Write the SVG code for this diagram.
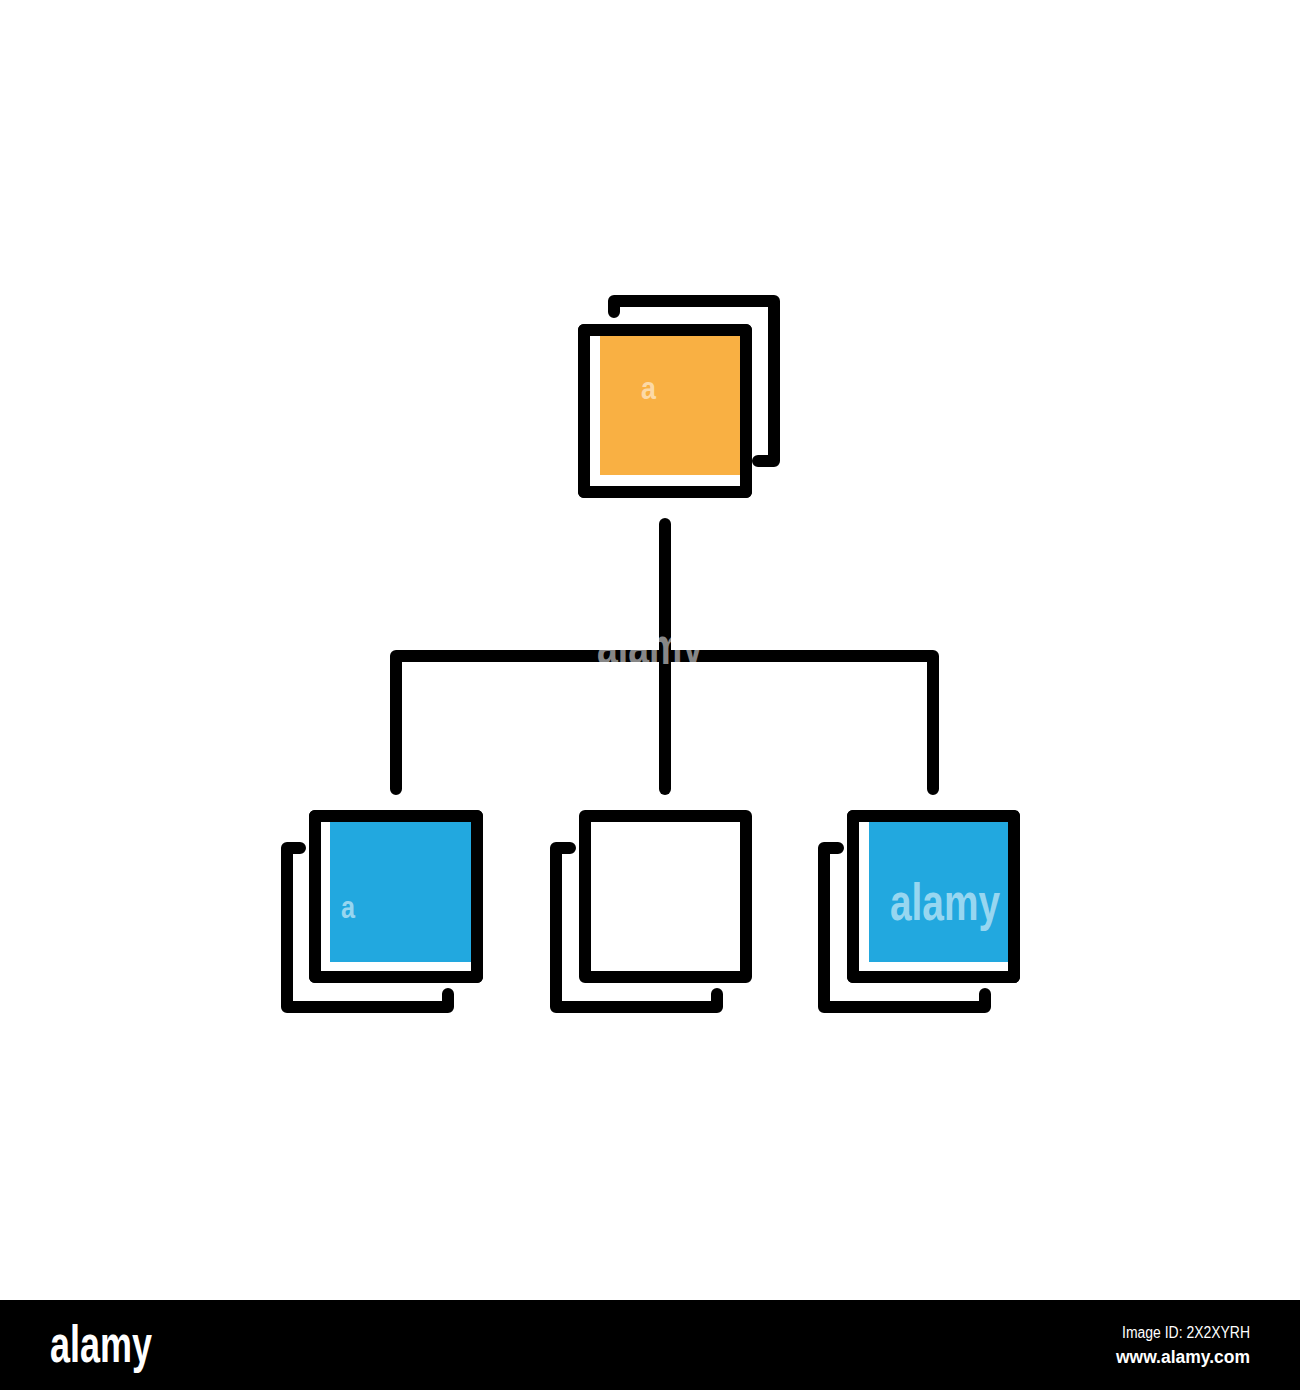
<svg xmlns="http://www.w3.org/2000/svg" width="1300" height="1390" viewBox="0 0 1300 1390">
<style>
.ln{fill:none;stroke:#000;stroke-width:12;stroke-linecap:round;stroke-linejoin:round}
.fr{fill:#fff;stroke:#000;stroke-width:12;stroke-linejoin:round}
.frn{fill:none;stroke:#000;stroke-width:12;stroke-linejoin:round}
.wm{fill:#fff;fill-opacity:0.55;font-family:"Liberation Sans",Arial,sans-serif;font-weight:bold}
.ft{font-family:"Liberation Sans",Arial,sans-serif;fill:#fff}
</style>
<rect width="1300" height="1390" fill="#fff"/>
<g id="connectors">
<path class="ln" d="M665,524 V789"/>
<path class="ln" d="M396,789 V656 H933 V789"/>
</g>
<text class="wm" x="597" y="664" font-size="52" textLength="106" lengthAdjust="spacingAndGlyphs">alamy</text>
<g id="node-top">
<path class="ln" d="M614,312 V301 H774 V461 H758"/>
<rect x="584" y="330" width="162" height="162" class="fr"/>
<rect x="600" y="336" width="140" height="139" fill="#F9B043"/>
<rect x="584" y="330" width="162" height="162" class="frn"/>
<text class="wm" x="641" y="399" font-size="32" textLength="15" lengthAdjust="spacingAndGlyphs">a</text>
</g>
<g id="node-left">
<path class="ln" d="M300,848 H287 V1007 H448 V994"/>
<rect x="315" y="816" width="162" height="161" class="fr"/>
<rect x="330" y="822" width="141" height="140" fill="#22A8DF"/>
<rect x="315" y="816" width="162" height="161" class="frn"/>
<text class="wm" x="341" y="918" font-size="32" textLength="14" lengthAdjust="spacingAndGlyphs">a</text>
</g>
<g id="node-middle">
<path class="ln" d="M570,848 H556 V1007 H717 V994"/>
<rect x="585" y="816" width="161" height="161" class="fr"/>
</g>
<g id="node-right">
<path class="ln" d="M838,848 H824 V1007 H985 V994"/>
<rect x="853" y="816" width="161" height="161" class="fr"/>
<rect x="869" y="822" width="140" height="140" fill="#22A8DF"/>
<rect x="853" y="816" width="161" height="161" class="frn"/>
<text class="wm" x="890" y="920" font-size="52" textLength="110" lengthAdjust="spacingAndGlyphs">alamy</text>
</g>
<g id="footer">
<rect x="0" y="1300" width="1300" height="90" fill="#000"/>
<text class="ft" x="50" y="1362" font-size="52" font-weight="bold" textLength="102" lengthAdjust="spacingAndGlyphs">alamy</text>
<text class="ft" x="1250" y="1338" font-size="16" text-anchor="end" fill="#e6e6e6" textLength="128" lengthAdjust="spacingAndGlyphs">Image ID: 2X2XYRH</text>
<text class="ft" x="1250" y="1363" font-size="18" font-weight="bold" text-anchor="end" textLength="134" lengthAdjust="spacingAndGlyphs">www.alamy.com</text>
</g>
</svg>
